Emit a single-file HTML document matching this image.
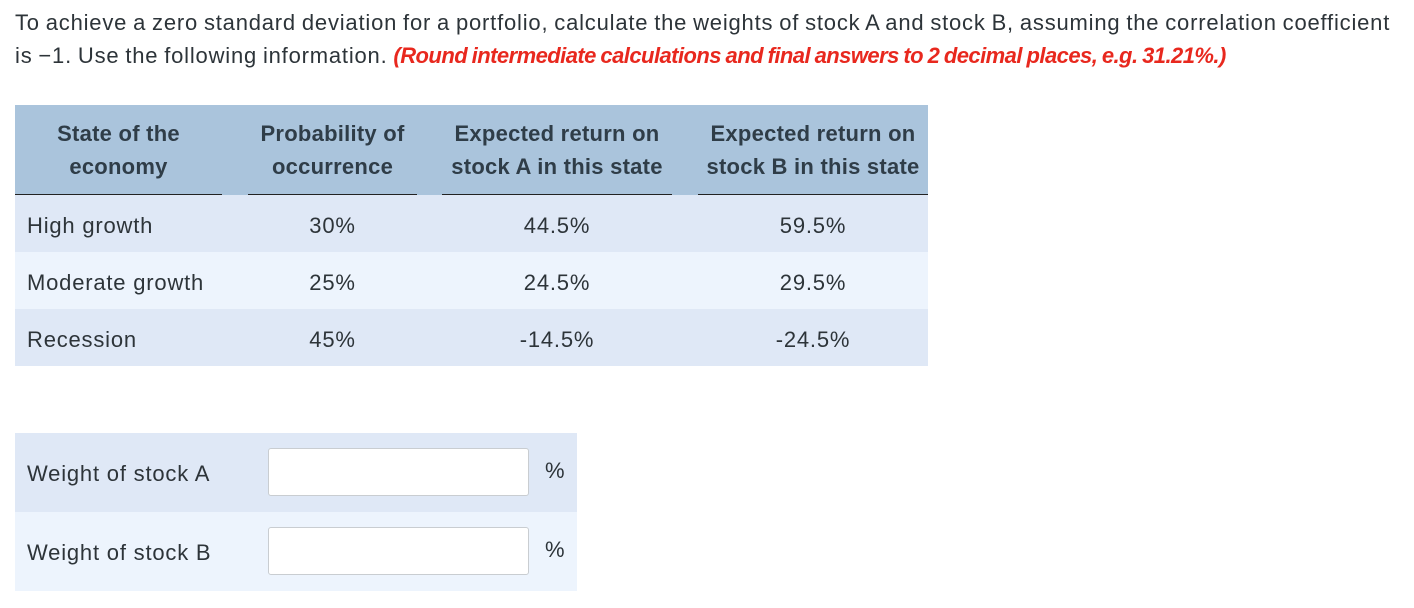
<!DOCTYPE html>
<html><head><meta charset="utf-8"><style>
body{margin:0;width:1414px;height:608px;background:#fff;font-family:"Liberation Sans",sans-serif;color:#2d3439;position:relative;overflow:hidden}
.a{position:absolute;white-space:nowrap}
.q{font-size:22px;line-height:33px;left:15px;top:6px;letter-spacing:0.8px;word-spacing:-1px}
.red{color:#e8281e;font-weight:bold;font-style:italic;letter-spacing:-0.55px}
.hd{background:#aac4dc;top:105px;height:90px;left:15px;width:913px}
.h{font-size:22px;line-height:33px;text-align:center;top:117px;font-weight:bold;color:#2f3d48;letter-spacing:0.25px}
.ul{height:1px;background:#222;top:194px}
.r{left:15px;width:913px;height:57px}
.t{font-size:22px;line-height:57px;letter-spacing:0.8px}
.c{text-align:center}
.inp{position:absolute;left:268px;width:261px;height:48px;background:#fff;border:1px solid #c9cdd1;border-radius:3px;box-sizing:border-box}
</style></head><body>
<div class="a q">To achieve a zero standard deviation for a portfolio, calculate the weights of stock A and stock B, assuming the correlation coefficient<br>is −1. Use the following information. <span class="red">(Round intermediate calculations and final answers to 2 decimal places, e.g. 31.21%.)</span></div>

<div class="a hd"></div>
<div class="a h" style="left:15px;width:207px">State of the<br>economy</div>
<div class="a h" style="left:248px;width:169px">Probability of<br>occurrence</div>
<div class="a h" style="left:442px;width:230px">Expected return on<br>stock A in this state</div>
<div class="a h" style="left:698px;width:230px">Expected return on<br>stock B in this state</div>
<div class="a ul" style="left:15px;width:207px"></div>
<div class="a ul" style="left:248px;width:169px"></div>
<div class="a ul" style="left:442px;width:230px"></div>
<div class="a ul" style="left:698px;width:230px"></div>

<div class="a r" style="top:195px;background:#dfe8f6"></div>
<div class="a r" style="top:252px;background:#edf4fd"></div>
<div class="a r" style="top:309px;background:#dfe8f6"></div>

<div class="a t" style="left:27px;top:197px">High growth</div>
<div class="a t c" style="left:248px;width:169px;top:197px">30%</div>
<div class="a t c" style="left:442px;width:230px;top:197px">44.5%</div>
<div class="a t c" style="left:698px;width:230px;top:197px">59.5%</div>
<div class="a t" style="left:27px;top:254px">Moderate growth</div>
<div class="a t c" style="left:248px;width:169px;top:254px">25%</div>
<div class="a t c" style="left:442px;width:230px;top:254px">24.5%</div>
<div class="a t c" style="left:698px;width:230px;top:254px">29.5%</div>
<div class="a t" style="left:27px;top:311px">Recession</div>
<div class="a t c" style="left:248px;width:169px;top:311px">45%</div>
<div class="a t c" style="left:442px;width:230px;top:311px">-14.5%</div>
<div class="a t c" style="left:698px;width:230px;top:311px">-24.5%</div>

<div class="a" style="left:15px;top:433px;width:562px;height:79px;background:#dfe8f6"></div>
<div class="a" style="left:15px;top:512px;width:562px;height:79px;background:#edf4fd"></div>
<div class="a t" style="left:27px;top:445px">Weight of stock A</div>
<div class="inp" style="top:448px"></div>
<div class="a t" style="left:545px;top:442px">%</div>
<div class="a t" style="left:27px;top:524px">Weight of stock B</div>
<div class="inp" style="top:527px"></div>
<div class="a t" style="left:545px;top:521px">%</div>
</body></html>
